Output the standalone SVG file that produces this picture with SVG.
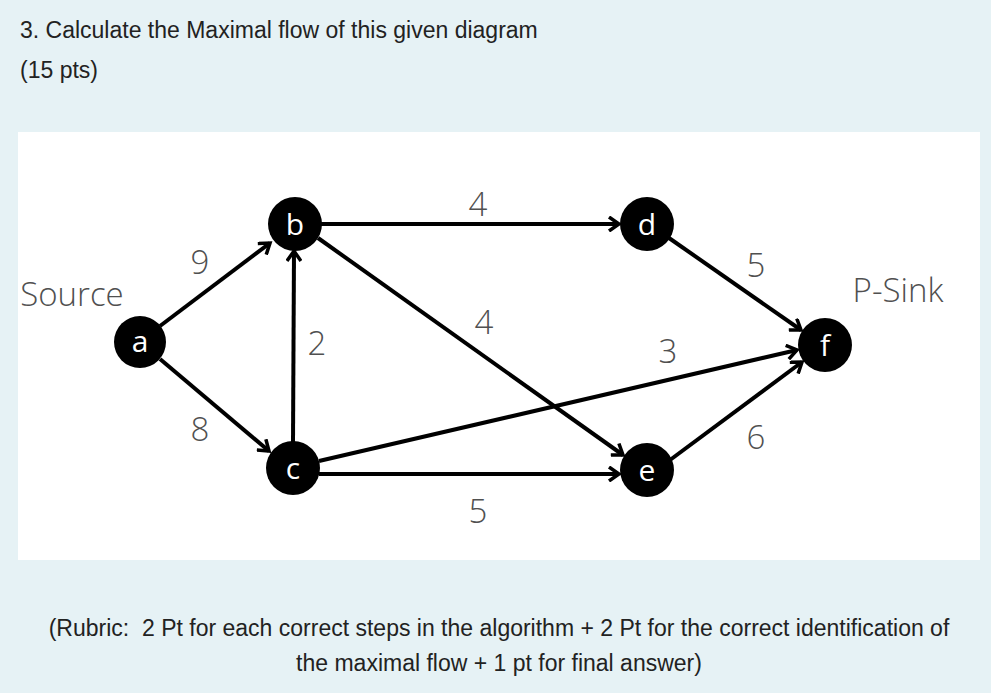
<svg xmlns="http://www.w3.org/2000/svg" width="991" height="693" viewBox="0 0 991 693">
<style>
.h{font-family:"Liberation Sans",Arial,sans-serif;font-size:23px;fill:#222;white-space:pre}
.l{font-family:"Open Sans","Noto Sans",sans-serif;font-weight:300;font-size:33px;fill:#505050;text-anchor:middle}
.n{font-family:"Open Sans","Noto Sans",sans-serif;font-size:30px;fill:#fff;text-anchor:middle}
.e{stroke:#000;stroke-width:4;fill:none;marker-end:url(#ar)}
</style>
<defs><marker id="ar" markerWidth="16" markerHeight="16" refX="12" refY="8" orient="auto" markerUnits="userSpaceOnUse"><path d="M2,1 L12,8 L2,15" fill="none" stroke="#000" stroke-width="3.5"/></marker></defs>
<rect width="991" height="693" fill="#e6f2f5"/>
<text class="h" x="20" y="38">3. Calculate the Maximal flow of this given diagram</text>
<text class="h" x="20" y="78">(15 pts)</text>
<rect x="18" y="132" width="962" height="428" fill="#fff"/>
<g id="connectors">
<line class="e" x1="160" y1="326" x2="270" y2="243"/>
<line class="e" x1="160" y1="359" x2="269" y2="451"/>
<line class="e" x1="293" y1="442" x2="294" y2="251"/>
<line class="e" x1="321" y1="224" x2="619" y2="224"/>
<line class="e" x1="318" y1="238" x2="623" y2="455"/>
<line class="e" x1="319" y1="461" x2="797" y2="350"/>
<line class="e" x1="319" y1="474" x2="619" y2="474"/>
<line class="e" x1="669" y1="238" x2="801" y2="330"/>
<line class="e" x1="670" y1="460" x2="802" y2="362"/>
</g>
<g id="labels">
<text class="l" x="200" y="274">9</text>
<text class="l" x="200" y="441">8</text>
<text class="l" x="317" y="355">2</text>
<text class="l" x="478" y="216">4</text>
<text class="l" x="484" y="334">4</text>
<text class="l" x="668" y="363">3</text>
<text class="l" x="478" y="523">5</text>
<text class="l" x="756" y="277">5</text>
<text class="l" x="756" y="449">6</text>
<text class="l" x="72" y="306">Source</text>
<text class="l" x="898" y="302">P-Sink</text>
</g>
<g id="a"><circle cx="140" cy="342" r="26"/><text class="n" x="140" y="352">a</text></g>
<g id="b"><circle cx="295" cy="224" r="27"/><text class="n" x="295" y="235">b</text></g>
<g id="c"><circle cx="293" cy="468" r="27"/><text class="n" x="293" y="479">c</text></g>
<g id="d"><circle cx="647" cy="224" r="27"/><text class="n" x="647" y="235">d</text></g>
<g id="e"><circle cx="647" cy="470" r="27"/><text class="n" x="647" y="481">e</text></g>
<g id="f"><circle cx="825" cy="345" r="27"/><text class="n" x="825" y="356">f</text></g>
<text class="h" x="499" y="636" text-anchor="middle" xml:space="preserve">(Rubric:  2 Pt for each correct steps in the algorithm + 2 Pt for the correct identification of</text>
<text class="h" x="499" y="671" text-anchor="middle">the maximal flow + 1 pt for final answer)</text>
</svg>
